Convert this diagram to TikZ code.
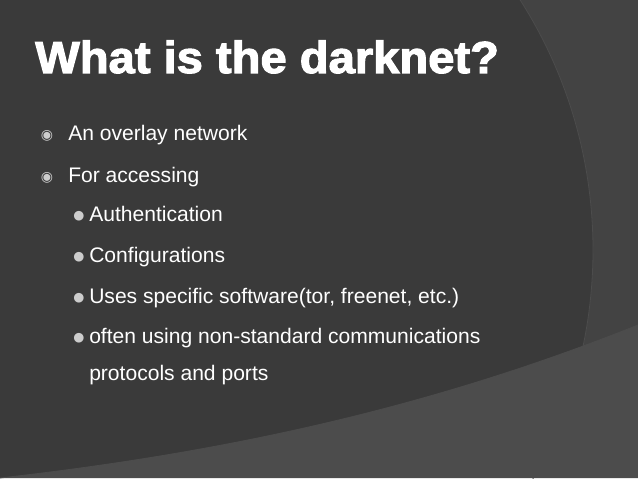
\documentclass[tikz,border=0pt]{standalone}
\usepackage{fontspec}
\setmainfont{Liberation Sans}
\newfontfamily\symf{DejaVu Sans}
\newfontfamily\titlef[FakeBold=2.5]{Liberation Sans Bold}
\begin{document}
\begin{tikzpicture}[x=0.75pt,y=-0.75pt,
  lone/.style={anchor=base west,text=white,font=\fontsize{15.8}{18}\selectfont,inner sep=0},
  bul/.style={anchor=base,text=white!80!black,inner sep=0}]
\definecolor{bgA}{HTML}{3A3A3A}
\definecolor{bgB}{HTML}{434343}
\definecolor{bgC}{HTML}{4C4C4C}
\useasboundingbox (0,0) rectangle (638,478);
\fill[bgB] (0,0) rectangle (638,478);
\begin{scope}
\clip (128,250) circle (465);
\fill[bgA] (0,0) rectangle (638,478);
\end{scope}
\fill[bgC] (0,478) .. controls (250,450) and (450,400) .. (638,325) -- (638,478) -- cycle;
\draw[black!70,line width=0.6] (128,250) circle (465);
\draw[black!70,line width=0.6] (0,478) .. controls (250,450) and (450,400) .. (638,325);
\node[anchor=base west,inner sep=0,text=white,font=\titlef\fontsize{32}{36}\selectfont,xscale=1.105,yscale=1.05] (title) at (35,73) {What is the darknet?};
\node[bul,font=\symf\fontsize{10.5}{11}\selectfont] (b1) at (47,139) {◉};
\node[lone] (t1) at (68,140) {An overlay network};
\node[bul,font=\symf\fontsize{10.5}{11}\selectfont] (b2) at (47,181) {◉};
\node[lone] (t2) at (68,182) {For accessing};
\foreach \y/\t [count=\i] in {221/Authentication,262/Configurations,303/{Uses specific software(tor, freenet, etc.)},343/{often using non-standard communications}}{
  \node[bul,font=\symf\fontsize{9.5}{10}\selectfont] (s\i) at (79,\y-1.5) {●};
  \node[lone] (u\i) at (89,\y) {\t};
}
\node[lone] (u5) at (89,380) {protocols and ports};
\end{tikzpicture}
\end{document}
